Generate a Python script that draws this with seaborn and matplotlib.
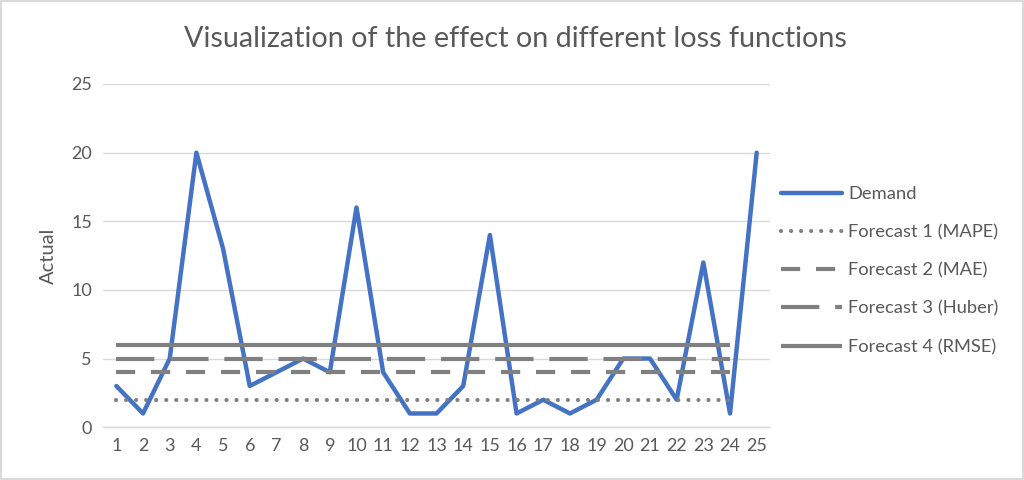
import matplotlib
matplotlib.use('Agg')
import matplotlib.pyplot as plt
import seaborn as sns
import pandas as pd

# values
periods = list(range(1, 26))
demand = [3, 1, 5, 20, 13, 3, 4, 5, 4, 16, 4, 1, 1, 3, 14, 1, 2, 1, 2, 5, 5, 2, 12, 1, 20]
forecast_periods = list(range(1, 25))
forecast_mape = [2] * 24
forecast_mae = [4] * 24
forecast_huber = [5] * 24
forecast_rmse = [6] * 24

sns.set_style('white')
plt.rcParams['font.family'] = ['Lato', 'DejaVu Sans']

text_col = '#595959'
grid_col = '#D9D9D9'
blue = '#4472C4'
grey = '#808080'

fig = plt.figure(figsize=(10.24, 4.8), dpi=100, edgecolor=grid_col, linewidth=1.5)
ax = fig.add_axes([0.1006, 0.110, 0.6514, 0.715])

df_d = pd.DataFrame({'period': periods, 'value': demand})
sns.lineplot(data=df_d, x='period', y='value', color=blue, linewidth=3.2,
             label='Demand', ax=ax, solid_capstyle='round', solid_joinstyle='round')

forecasts = [
    ('Forecast 1 (MAPE)', forecast_mape, (0, (0.01, 2.4)), 'round'),
    ('Forecast 2 (MAE)', forecast_mae, (0, (4.6, 3.8)), 'butt'),
    ('Forecast 3 (Huber)', forecast_huber, (0, (9.2, 3.8)), 'butt'),
    ('Forecast 4 (RMSE)', forecast_rmse, '-', 'butt'),
]
for name, vals, ls, cap in forecasts:
    d = pd.DataFrame({'period': forecast_periods, 'value': vals})
    line = sns.lineplot(data=d, x='period', y='value', color=grey, linewidth=3,
                        label=name, ax=ax).lines[-1]
    line.set_linestyle(ls)
    line.set_dash_capstyle(cap)
    line.set_solid_capstyle(cap)

ax.set_xlim(0.5, 25.5)
ax.set_ylim(0, 25)
ax.set_xticks(periods)
ax.set_yticks([0, 5, 10, 15, 20, 25])
ax.tick_params(axis='both', length=0, labelsize=13, labelcolor=text_col, pad=8)
ax.yaxis.grid(True, color=grid_col, linewidth=1)
for s in ['top', 'right', 'left']:
    ax.spines[s].set_visible(False)
ax.spines['bottom'].set_color(grid_col)
ax.spines['bottom'].set_linewidth(1)
ax.set_axisbelow(True)

ax.set_xlabel('')
ax.set_ylabel('Actual', fontsize=14.5, color=text_col, labelpad=10)

fig.suptitle('Visualization of the effect on different loss functions',
             fontsize=20.7, color=text_col, y=0.945, x=0.503)

leg = ax.legend(loc='center left', bbox_to_anchor=(0.763, 0.436),
                bbox_transform=fig.transFigure, frameon=False, fontsize=13.2,
                handlelength=3.3, handletextpad=0.35, labelspacing=1.2,
                borderpad=0, borderaxespad=0)
for t in leg.get_texts():
    t.set_color(text_col)

fig.savefig('out.png', dpi=100, edgecolor=fig.get_edgecolor())
